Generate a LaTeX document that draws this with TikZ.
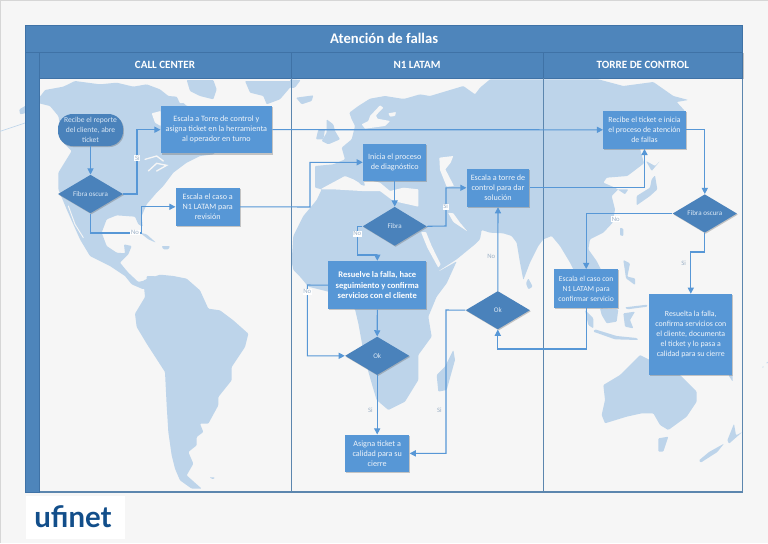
\documentclass[tikz,border=0pt]{standalone}
\usepackage{fontspec}
\setmainfont{Carlito}
\newfontfamily\logofont{Lato}
\usetikzlibrary{shapes.geometric,arrows.meta,shadows,calc}
\definecolor{pagebg}{HTML}{F6F6F6}
\definecolor{landc}{HTML}{BDD4EA}
\definecolor{bandc}{HTML}{4E85BB}
\definecolor{bandline}{HTML}{3F72A6}
\definecolor{boxc}{HTML}{5797D6}
\definecolor{darkc}{HTML}{4A82BB}
\definecolor{linec}{HTML}{5797D6}
\definecolor{poolline}{HTML}{5C86AE}
\definecolor{txtc}{HTML}{F0F5FA}
\definecolor{lblc}{HTML}{9BB0C6}
\definecolor{logoc}{HTML}{124E8A}
\tikzset{
  zf/.style n args={2}{shift={(#1,#2)},x=0.25pt,y=-0.25pt},
  land/.style={fill=landc,rounded corners=0.7pt},
  water/.style={fill=pagebg,rounded corners=0.5pt},
  softshadow/.style={drop shadow={shadow xshift=0.7pt,shadow yshift=-0.8pt,opacity=0.35,fill=black!60}},
  band/.style={fill=bandc,draw=bandline,line width=0.6pt,text=white,font=\bfseries,inner sep=0pt},
  boxn/.style={rectangle,fill=boxc,draw=none,softshadow,text=txtc,font=\fontsize{6.1}{7.5}\selectfont,align=center,inner sep=0pt},
  diam/.style={diamond,fill=darkc,draw=none,softshadow,text=txtc!85!boxc,font=\fontsize{5.3}{7.5}\selectfont,align=center,inner sep=0pt,aspect=1.68},
  term/.style={rectangle,rounded corners=11pt,fill=darkc,draw=none,softshadow,text=txtc!85!boxc,font=\fontsize{5.7}{7.5}\selectfont,align=center,inner sep=0pt},
  conn/.style={draw=linec,line width=0.8pt,-{Triangle[length=4.6pt,width=4.6pt]}},
  lbl/.style={font=\fontsize{5}{5}\selectfont,text=lblc,inner sep=0.6pt},
  lblw/.style={lbl,fill=white},
}
\begin{document}
\begin{tikzpicture}[x=0.75pt,y=-0.75pt]
\useasboundingbox (0,0) rectangle (768,543);
\fill[pagebg] (0,0) rectangle (768,543);
\fill[black!16] (0,0) rectangle (768,1);
\fill[black!16] (0,0) rectangle (1,543);

% ---------- world map ----------
% North and Central America
\begin{scope}[zf={0}{76}]
\fill[land] (58,100)--(72,92)--(120,62)--(135,42)--(190,32)--(225,15)--(300,25)--(350,20)--(400,32)--(440,25)--(480,40)--(505,60)--(530,62)--(560,90)--(640,90)--(690,180)--(640,235)--(600,240)--(560,260)--(520,290)--(490,330)--(470,350)--(440,385)--(425,420)--(428,452)--(415,445)--(405,422)--(350,418)--(320,430)--(305,470)--(320,510)--(350,530)--(375,532)--(372,505)--(395,510)--(385,535)--(360,560)--(385,590)--(415,618)--(440,612)--(440,600)--(465,600)--(470,625)--(430,640)--(395,625)--(375,600)--(330,570)--(270,540)--(240,490)--(200,400)--(175,340)--(175,290)--(215,225)--(190,200)--(175,120)--(150,90)--(118,82)--(75,112)--(60,115)--cycle;
\fill[land] (560,12)--(640,12)--(650,40)--(640,70)--(600,60)--(570,45)--cycle;
\fill[land] (735,15)--(880,15)--(870,35)--(840,70)--(800,85)--(790,60)--(750,50)--cycle;
\fill[land] (420,470)--(440,475)--(468,500)--(445,490)--cycle;
\fill[land] (485,510)--(510,510)--(505,520)--(490,520)--cycle;
\fill[water] (455,112)--(482,105)--(482,150)--(465,140)--cycle;
\fill[water] (530,60)--(545,42)--(560,78)--(540,82)--cycle;
\draw[pagebg,line width=1pt,line cap=round] (435,250)--(470,240)--(490,255);
\draw[pagebg,line width=1pt,line cap=round] (445,285)--(470,262)--(500,268)--(470,285);
\draw[pagebg,line width=0.7pt,line cap=round] (205,390)--(225,445)--(250,485);
\fill[land] (0,165)--(75,140)--(75,142)--(0,167)--cycle;
\end{scope}
% South America
\begin{scope}[zf={0}{272}]
\fill[land] (430,25)--(480,8)--(520,12)--(560,20)--(600,55)--(625,110)--(660,115)--(700,145)--(745,185)--(735,225)--(695,285)--(695,325)--(655,375)--(655,400)--(625,455)--(600,455)--(610,480)--(590,495)--(590,520)--(565,540)--(580,575)--(560,610)--(605,650)--(575,650)--(540,625)--(525,590)--(515,550)--(505,480)--(500,400)--(495,300)--(440,215)--(410,165)--(405,125)--(435,75)--cycle;
\fill[land] (628,616)--(645,616)--(640,622)--cycle;
\end{scope}
% Afro-Eurasia, Australia and islands
\begin{scope}[zf={290}{76}]
\fill[land] (75,270)--(130,265)--(165,250)--(155,215)--(185,190)--(195,150)--(185,130)--(178,110)--(205,90)--(240,68)--(285,60)--(335,68)--(345,68)--(390,55)--(420,60)--(470,45)--(520,30)--(555,55)--(570,35)--(600,10)--(925,10)--(1000,30)--(1090,18)--(1150,60)--(1195,72)--(1160,78)--(1185,105)--(1150,170)--(1050,218)--(1062,262)--(1012,300)--(950,305)--(940,320)--(975,335)--(1005,355)--(1015,340)--(985,340)--(965,360)--(975,400)--(968,440)--(940,470)--(900,490)--(895,520)--(920,555)--(935,585)--(925,640)--(890,640)--(870,640)--(855,590)--(840,560)--(810,510)--(785,480)--(760,490)--(745,510)--(720,560)--(700,612)--(690,560)--(680,500)--(665,480)--(640,472)--(600,470)--(575,462)--(570,490)--(555,505)--(500,550)--(450,582)--(440,590)--(500,556)--(495,567)--(470,622)--(440,662)--(415,722)--(425,782)--(385,837)--(385,912)--(345,977)--(295,1002)--(260,972)--(245,922)--(225,852)--(205,742)--(195,700)--(115,647)--(55,632)--(30,602)--(10,582)--(5,557)--(10,480)--(40,420)--(80,372)--(95,340)--(75,335)--cycle;
% Mediterranean
\fill[water] (92,340)--(130,340)--(215,345)--(270,345)--(310,375)--(385,392)--(385,340)--(340,335)--(300,345)--(270,320)--(225,310)--(215,325)--(190,310)--(165,300)--(100,335)--cycle;
\fill[land] (198,290)--(215,290)--(225,330)--(210,325)--cycle;
% Red Sea and Persian Gulf
\fill[water] (393,468)--(412,515)--(445,575)--(452,565)--(425,510)--(408,468)--cycle;
\fill[water] (474,410)--(490,438)--(532,466)--(510,440)--(490,412)--cycle;
% Caspian
\fill[water] (448,245)--(490,240)--(482,260)--(466,280)--(492,330)--(470,332)--(450,282)--cycle;
% Baltic, White Sea
\fill[water] (270,88)--(280,95)--(258,118)--(262,128)--(300,135)--(285,150)--(225,158)--(215,145)--(235,135)--(240,120)--cycle;
\fill[water] (295,112)--(318,108)--(315,120)--(300,122)--cycle;
% Britain, Ireland, Iceland, Greenland tail
\fill[land] (110,130)--(130,145)--(135,165)--(150,190)--(115,205)--(95,195)--(110,170)--cycle;
\fill[land] (85,160)--(105,160)--(100,190)--(78,190)--cycle;
\fill[land] (18,65)--(70,58)--(65,75)--(35,85)--cycle;
\fill[land] (0,10)--(32,12)--(15,35)--(0,36)--cycle;
% Madagascar, Sri Lanka
\fill[land] (490,822)--(495,852)--(470,942)--(445,947)--(440,897)--(465,872)--cycle;
\fill[land] (715,607)--(728,632)--(715,640)--(708,622)--cycle;
\end{scope}
\begin{scope}[zf={540}{76}]
% Sakhalin, Japan, Taiwan
\fill[land] (318,255)--(345,270)--(360,255)--(335,285)--cycle;
\fill[land] (345,298)--(352,340)--(330,360)--(290,388)--(290,360)--(330,335)--(335,310)--cycle;
\fill[land] (240,455)--(250,458)--(250,480)--(240,478)--cycle;
\end{scope}
\begin{scope}[zf={540}{260}]
% Philippines and Indonesia
\fill[land] (250,0)--(270,10)--(262,50)--(285,55)--(285,75)--(258,55)--cycle;
\fill[land] (135,150)--(160,175)--(160,205)--(145,195)--cycle;
\fill[land] (165,208)--(230,228)--(290,234)--(295,240)--(225,238)--(160,215)--cycle;
\fill[land] (180,145)--(235,148)--(230,185)--(200,190)--(185,165)--cycle;
\fill[land] (250,160)--(285,155)--(270,180)--(280,205)--(255,200)--cycle;
\fill[land] (255,142)--(322,134)--(322,140)--(262,148)--cycle;
% Australia and Tasmania
\fill[land] (300,285)--(330,300)--(420,345)--(470,395)--(470,425)--(440,470)--(385,510)--(360,495)--(340,460)--(305,460)--(260,470)--(195,490)--(185,465)--(195,420)--(190,375)--(240,345)--(265,320)--cycle;
\fill[land] (355,535)--(385,530)--(370,575)--(355,575)--cycle;
\fill[land] (565,345)--(578,345)--(578,365)--cycle;
\fill[land] (665,322)--(672,318)--(670,324)--cycle;
\fill[land] (678,308)--(684,304)--(682,312)--cycle;
\end{scope}
\begin{scope}[zf={384}{272}]
% New Zealand
\fill[land] (1050,455)--(1056,490)--(1075,480)--(1035,515)--(1030,505)--cycle;
\fill[land] (1020,515)--(1000,540)--(950,572)--(945,565)--(975,540)--cycle;
\end{scope}

% ---------- swimlanes ----------
\draw[poolline,line width=1pt] (25.5,52) rectangle (742.7,492);
\node[band,softshadow,minimum width=13.5*0.75pt,minimum height=440*0.75pt] (strip) at (32.2,272) {};
\node[band,minimum width=717.2*0.75pt,minimum height=26.5*0.75pt,font=\bfseries\fontsize{11}{13}\selectfont] (title) at (384.1,38.8) {Atención de fallas};
\node[band,softshadow,minimum width=252*0.75pt,minimum height=26*0.75pt,font=\bfseries\fontsize{8.3}{10}\selectfont] (lane1) at (165,65) {CALL CENTER};
\node[band,softshadow,minimum width=252*0.75pt,minimum height=26*0.75pt,font=\bfseries\fontsize{8.3}{10}\selectfont] (lane2) at (417,65) {N1 LATAM};
\node[band,softshadow,minimum width=199.7*0.75pt,minimum height=26*0.75pt,font=\bfseries\fontsize{8.3}{10}\selectfont] (lane3) at (642.85,65) {TORRE DE CONTROL};
\draw[poolline,line width=1pt] (lane1.south east) -- (lane1.south east |- strip.south);
\draw[poolline,line width=1pt] (lane2.south east) -- (lane2.south east |- strip.south);

% ---------- process nodes ----------
\node[term,minimum width=65*0.75pt,minimum height=32*0.75pt] (start) at (90.5,130) {Recibe el reporte\\del cliente, abre\\ticket};
\node[diam,minimum width=65*0.75pt,minimum height=38.5*0.75pt] (d1) at (90.5,194) {Fibra oscura};
\node[boxn,minimum width=111.3*0.75pt,minimum height=47.5*0.75pt] (torre) at (216.4,129.7) {Escala a Torre de control y\\asigna ticket en la herramienta\\al operador en turno};
\node[boxn,minimum width=64*0.75pt,minimum height=38.3*0.75pt] (n1) at (207.7,206.8) {Escala el caso a\\N1 LATAM para\\revisión};
\node[boxn,minimum width=63.3*0.75pt,minimum height=37.3*0.75pt] (inicia) at (394.7,162.3) {Inicia el proceso\\de diagnóstico};
\node[diam,minimum width=64*0.75pt,minimum height=39*0.75pt] (fibra) at (394.7,226.3) {Fibra};
\node[boxn,minimum width=62.7*0.75pt,minimum height=38.3*0.75pt] (esc) at (498,187.8) {Escala a torre de\\control para dar\\solución};
\node[boxn,minimum width=98*0.75pt,minimum height=48.3*0.75pt,font=\bfseries\fontsize{6.4}{8}\selectfont,text=white] (res) at (377.3,285.2) {Resuelve la falla, hace\\seguimiento y confirma\\servicios con el cliente};
\node[diam,minimum width=64.3*0.75pt,minimum height=38.3*0.75pt] (ok1) at (377.2,355.8) {Ok};
\node[diam,minimum width=64.3*0.75pt,minimum height=38.3*0.75pt] (ok2) at (497.8,310.2) {Ok};
\node[boxn,minimum width=64.3*0.75pt,minimum height=37.3*0.75pt] (asig) at (377.2,453.4) {Asigna ticket a\\calidad para su\\cierre};
\node[boxn,minimum width=82.4*0.75pt,minimum height=37.7*0.75pt,font=\fontsize{5.9}{7.5}\selectfont] (recibe) at (644.5,129.8) {Recibe el ticket e inicia\\el proceso de atención\\de fallas};
\node[diam,minimum width=64.3*0.75pt,minimum height=38.4*0.75pt] (fo3) at (704.8,213.5) {Fibra oscura};
\node[boxn,minimum width=63.7*0.75pt,minimum height=38.4*0.75pt,font=\fontsize{5.7}{7.5}\selectfont] (caso) at (586.2,288.5) {Escala el caso con\\N1 LATAM para\\confirmar servicio};
\node[boxn,minimum width=83*0.75pt,minimum height=81*0.75pt,font=\fontsize{5.9}{7.5}\selectfont] (resu) at (690.8,334.5) {Resuelta la falla,\\confirma servicios con\\el cliente, documenta\\el ticket y lo pasa a\\calidad para su cierre};

% ---------- connectors ----------
\coordinate (w1) at (137,194);
\coordinate (w2) at (141.7,233);
\coordinate (w3) at (310,207);
\coordinate (w4) at (446,226);
\coordinate (w5) at (357.3,255);
\coordinate (w6) at (307.3,285);
\coordinate (w7) at (446,310);
\coordinate (w8) at (690.8,252);
\coordinate (w9) at (497.8,349);
\draw[conn] (start) -- (d1);
\draw[conn] (d1.east) -- (w1) |- (torre.west);
\draw[conn] (d1.south) |- (w2) |- (n1.west);
\draw[conn] (torre.east) -- (recibe.west);
\draw[conn] (n1.east) -- (w3) |- (inicia.west);
\draw[conn] (inicia.south) -- (fibra.north);
\draw[conn] (fibra.east) -- (w4) |- (esc.west);
\draw[conn] (fibra.west) -| (w5) -| (res.north);
\draw[conn] (res.west) -- (w6) |- (ok1.west);
\draw[conn] (res.south) -- (ok1.north);
\draw[conn] (ok1.south) -- (asig.north);
\draw[conn] (ok2.north) -- (esc.south);
\draw[conn] (ok2.west) -- (w7) |- (asig.east);
\draw[conn] (esc.east) -| (recibe.south);
\draw[conn] (recibe.east) -| (fo3.north);
\draw[conn] (fo3.west) -| (caso.north);
\draw[conn] (fo3.south) |- (w8) -- (resu.north);
\draw[conn] (caso.south) |- (w9) -- (ok2.south);

% ---------- labels ----------
\node[lblw] (l1) at (137.3,158) {Si};
\node[lblw] (l2) at (135,232.5) {No};
\node[lblw] (l3) at (357.3,233.7) {No};
\node[lblw] (l4) at (445.7,206.7) {Si};
\node[lbl] (l5) at (491.3,256.3) {No};
\node[lblw] (l6) at (307.3,291.7) {No};
\node[lbl] (l7) at (370.3,410) {Si};
\node[lbl] (l8) at (439.3,410) {Si};
\node[lblw] (l9) at (615.7,219.3) {No};
\node[lbl] (l10) at (683.7,263.3) {Si};

% ---------- logo ----------
\node[fill=white,minimum width=99*0.75pt,minimum height=43*0.75pt,inner sep=0pt] (logobox) at (75.3,517.5) {};
\node[text=logoc,font=\logofont\bfseries\fontsize{22}{24}\selectfont,inner sep=0pt] (logo) at (73,517) {ufinet};
\end{tikzpicture}
\end{document}
